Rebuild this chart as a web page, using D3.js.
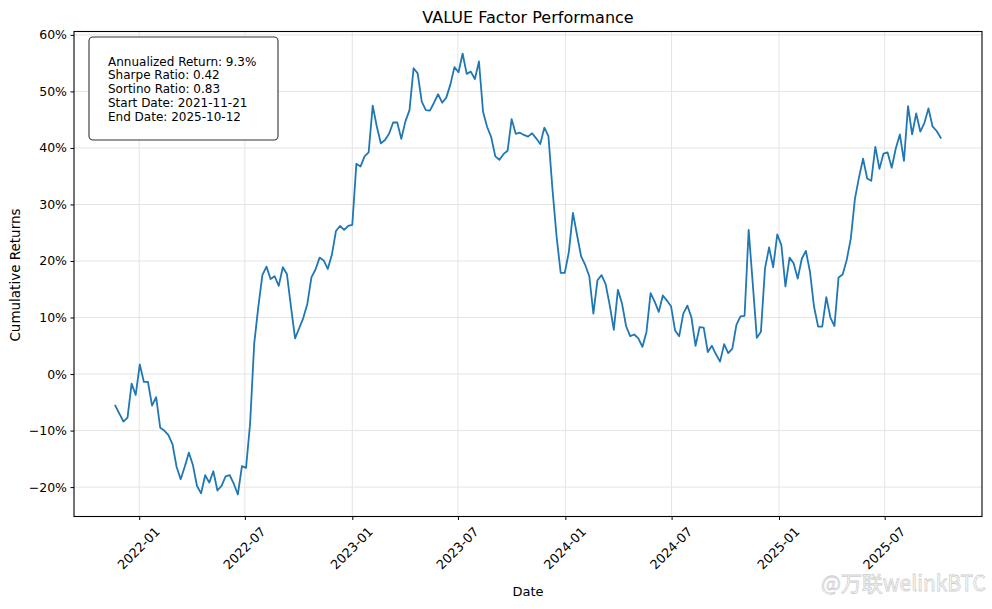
<!DOCTYPE html>
<html>
<head>
<meta charset="utf-8">
<script src="https://cdn.jsdelivr.net/npm/d3@7"></script>
<style>
  html, body { margin: 0; padding: 0; background: #fff; }
  svg { display: block; font-family: "DejaVu Sans", sans-serif; }
</style>
</head>
<body>
<svg id="chart" width="992" height="609"></svg>
<script>
// ---- data ----
const startDate = "2021-11-21";   // first weekly observation
const stepDays = 7;               // weekly series
const cumulativeReturns = [
  -5.6, -7.0, -8.4, -7.7, -1.7, -3.7, 1.7, -1.4, -1.4, -5.6,
  -4.1, -9.5, -10.0, -10.8, -12.4, -16.4, -18.6, -16.4, -13.9, -16.1,
  -19.8, -21.1, -17.9, -19.2, -17.2, -20.6, -19.8, -18.1, -17.9, -19.4,
  -21.3, -16.3, -16.6, -8.7, 5.4, 11.9, 17.5, 19.0, 16.8, 17.3,
  15.6, 18.9, 17.7, 11.9, 6.3, 8.1, 9.9, 12.4, 17.1, 18.5,
  20.6, 20.1, 18.6, 21.1, 25.3, 26.2, 25.5, 26.2, 26.4, 37.2,
  36.7, 38.5, 39.2, 47.5, 43.8, 40.8, 41.4, 42.5, 44.5, 44.5,
  41.6, 44.7, 46.7, 54.1, 53.2, 48.2, 46.7, 46.6, 48.0, 49.5,
  48.0, 48.9, 51.2, 54.3, 53.4, 56.7, 53.1, 53.5, 52.2, 55.3,
  46.4, 43.7, 41.9, 38.5, 37.9, 38.9, 39.5, 45.1, 42.5, 42.7,
  42.3, 42.0, 42.6, 41.7, 40.7, 43.6, 42.1, 32.6, 24.3, 17.9,
  17.9, 21.6, 28.5, 24.6, 20.8, 19.3, 17.3, 10.7, 16.6, 17.5,
  15.9, 12.2, 7.8, 14.9, 12.5, 8.5, 6.7, 7.0, 6.3, 4.8,
  7.5, 14.3, 12.8, 11.0, 13.9, 13.0, 12.0, 7.7, 6.7, 10.7,
  12.1, 10.0, 5.0, 8.3, 8.2, 3.9, 5.0, 3.5, 2.2, 5.3,
  3.7, 4.5, 8.7, 10.2, 10.3, 25.5, 16.0, 6.4, 7.5, 18.7,
  22.4, 18.9, 24.7, 22.8, 15.5, 20.6, 19.6, 16.9, 20.4, 21.8,
  18.1, 11.9, 8.4, 8.4, 13.6, 10.0, 8.5, 17.1, 17.6, 20.2,
  24.0, 31.0, 34.8, 38.1, 34.6, 34.2, 40.2, 36.3, 39.0, 39.2,
  36.5, 39.9, 42.4, 37.7, 47.4, 42.4, 46.1, 42.9, 44.4, 47.0,
  43.8, 43.0, 41.8
];
const yTickValues = [-20, -10, 0, 10, 20, 30, 40, 50, 60];
const xTickLabels = ["2022-01", "2022-07", "2023-01", "2023-07", "2024-01", "2024-07", "2025-01", "2025-07"];
const statsLines = [
  "Annualized Return: 9.3%",
  "Sharpe Ratio: 0.42",
  "Sortino Ratio: 0.83",
  "Start Date: 2021-11-21",
  "End Date: 2025-10-12"
];
const titleText = "VALUE Factor Performance";
const xLabelText = "Date";
const yLabelText = "Cumulative Returns";
const watermarkText = "@万联welinkBTC";

// ---- build ----
const t0 = d3.utcParse("%Y-%m-%d")(startDate);
const data = cumulativeReturns.map((v, i) => ({ date: d3.utcDay.offset(t0, i * stepDays), value: v }));

const svg = d3.select("#chart");
const L = 74, R = 982, T = 31.5, B = 516.5;

const xExt = d3.extent(data, d => d.date);
const xPad = (xExt[1] - xExt[0]) * 0.05;
const x = d3.scaleUtc()
  .domain([new Date(+xExt[0] - xPad), new Date(+xExt[1] + xPad)])
  .range([L, R]);

const yExt = d3.extent(data, d => d.value);
const yPad = (yExt[1] - yExt[0]) * 0.05;
const y = d3.scaleLinear()
  .domain([yExt[0] - yPad, yExt[1] + yPad])
  .range([B, T]);

const parseTick = d3.utcParse("%Y-%m");
const xTicks = xTickLabels.map(s => parseTick(s));

// grid
const grid = svg.append("g");
grid.selectAll("line.gx").data(xTicks).join("line")
  .attr("x1", d => x(d)).attr("x2", d => x(d))
  .attr("y1", T).attr("y2", B)
  .attr("stroke", "#e4e4e4").attr("stroke-width", 1);
grid.selectAll("line.gy").data(yTickValues).join("line")
  .attr("x1", L).attr("x2", R)
  .attr("y1", d => y(d)).attr("y2", d => y(d))
  .attr("stroke", "#e4e4e4").attr("stroke-width", 1);

// line
const line = d3.line().x(d => x(d.date)).y(d => y(d.value));
svg.append("path").datum(data)
  .attr("d", line)
  .attr("fill", "none")
  .attr("stroke", "#1f77b4")
  .attr("stroke-width", 1.8)
  .attr("stroke-linejoin", "round")
  .attr("stroke-linecap", "square");

// axes
const fmtPct = d => (d < 0 ? "\u2212" : "") + Math.abs(d) + "%";
const yAxis = svg.append("g").attr("transform", `translate(${L},0)`)
  .call(d3.axisLeft(y).tickValues(yTickValues).tickFormat(fmtPct).tickSize(3.5).tickPadding(3.5));
yAxis.select(".domain").remove();
yAxis.selectAll("text").attr("font-size", 12.5).attr("fill", "#000").attr("font-family", "DejaVu Sans");
yAxis.selectAll("line").attr("stroke", "#000");

const xAxis = svg.append("g").attr("transform", `translate(0,${B})`)
  .call(d3.axisBottom(x).tickValues(xTicks).tickFormat(d3.utcFormat("%Y-%m")).tickSize(3.5));
xAxis.select(".domain").remove();
xAxis.selectAll("line").attr("stroke", "#000");
xAxis.selectAll("text").each(function() {
  const t = d3.select(this);
  t.attr("font-size", 12.8).attr("fill", "#000").attr("font-family", "DejaVu Sans")
   .attr("y", 0).attr("dy", null).attr("dominant-baseline", "central").attr("text-anchor", "middle");
  const bb = this.getBBox();
  const rotH = (bb.width + bb.height) * Math.SQRT1_2;
  const cy = 7.5 + rotH / 2;
  t.attr("transform", `translate(-1,${cy}) rotate(-45)`);
});

// frame
svg.append("rect").attr("x", L).attr("y", T).attr("width", R - L).attr("height", B - T)
  .attr("fill", "none").attr("stroke", "#000").attr("stroke-width", 1.1);

// title & labels
svg.append("text").attr("x", (L + R) / 2).attr("y", 17).attr("dominant-baseline", "central")
  .attr("text-anchor", "middle").attr("font-size", 16).text(titleText);
svg.append("text").attr("x", (L + R) / 2).attr("y", 591).attr("dominant-baseline", "central")
  .attr("text-anchor", "middle").attr("font-size", 13).text(xLabelText);
svg.append("text").attr("transform", `translate(15,${(T + B) / 2 + 1}) rotate(-90)`)
  .attr("dominant-baseline", "central").attr("text-anchor", "middle")
  .attr("font-size", 13.5).text(yLabelText);

// stats box
const box = svg.append("g");
box.append("rect").attr("x", 89).attr("y", 37).attr("width", 189).attr("height", 103)
  .attr("rx", 4).attr("fill", "#fff").attr("stroke", "#333").attr("stroke-width", 1.1);
box.selectAll("text").data(statsLines).join("text")
  .attr("x", 108).attr("y", (d, i) => 61.5 + i * 13.8)
  .attr("dominant-baseline", "central").attr("font-size", 12).attr("fill", "#000")
  .text(d => d);

// watermark
svg.append("text").attr("x", 986).attr("y", 582).attr("dominant-baseline", "central")
  .attr("text-anchor", "end").attr("font-family", "Noto Sans CJK SC, sans-serif")
  .attr("font-size", 21).attr("fill", "#ffffff").attr("fill-opacity", 0.6)
  .attr("stroke", "#cfcfcf").attr("stroke-width", 0.8)
  .text(watermarkText);
</script>
</body>
</html>
